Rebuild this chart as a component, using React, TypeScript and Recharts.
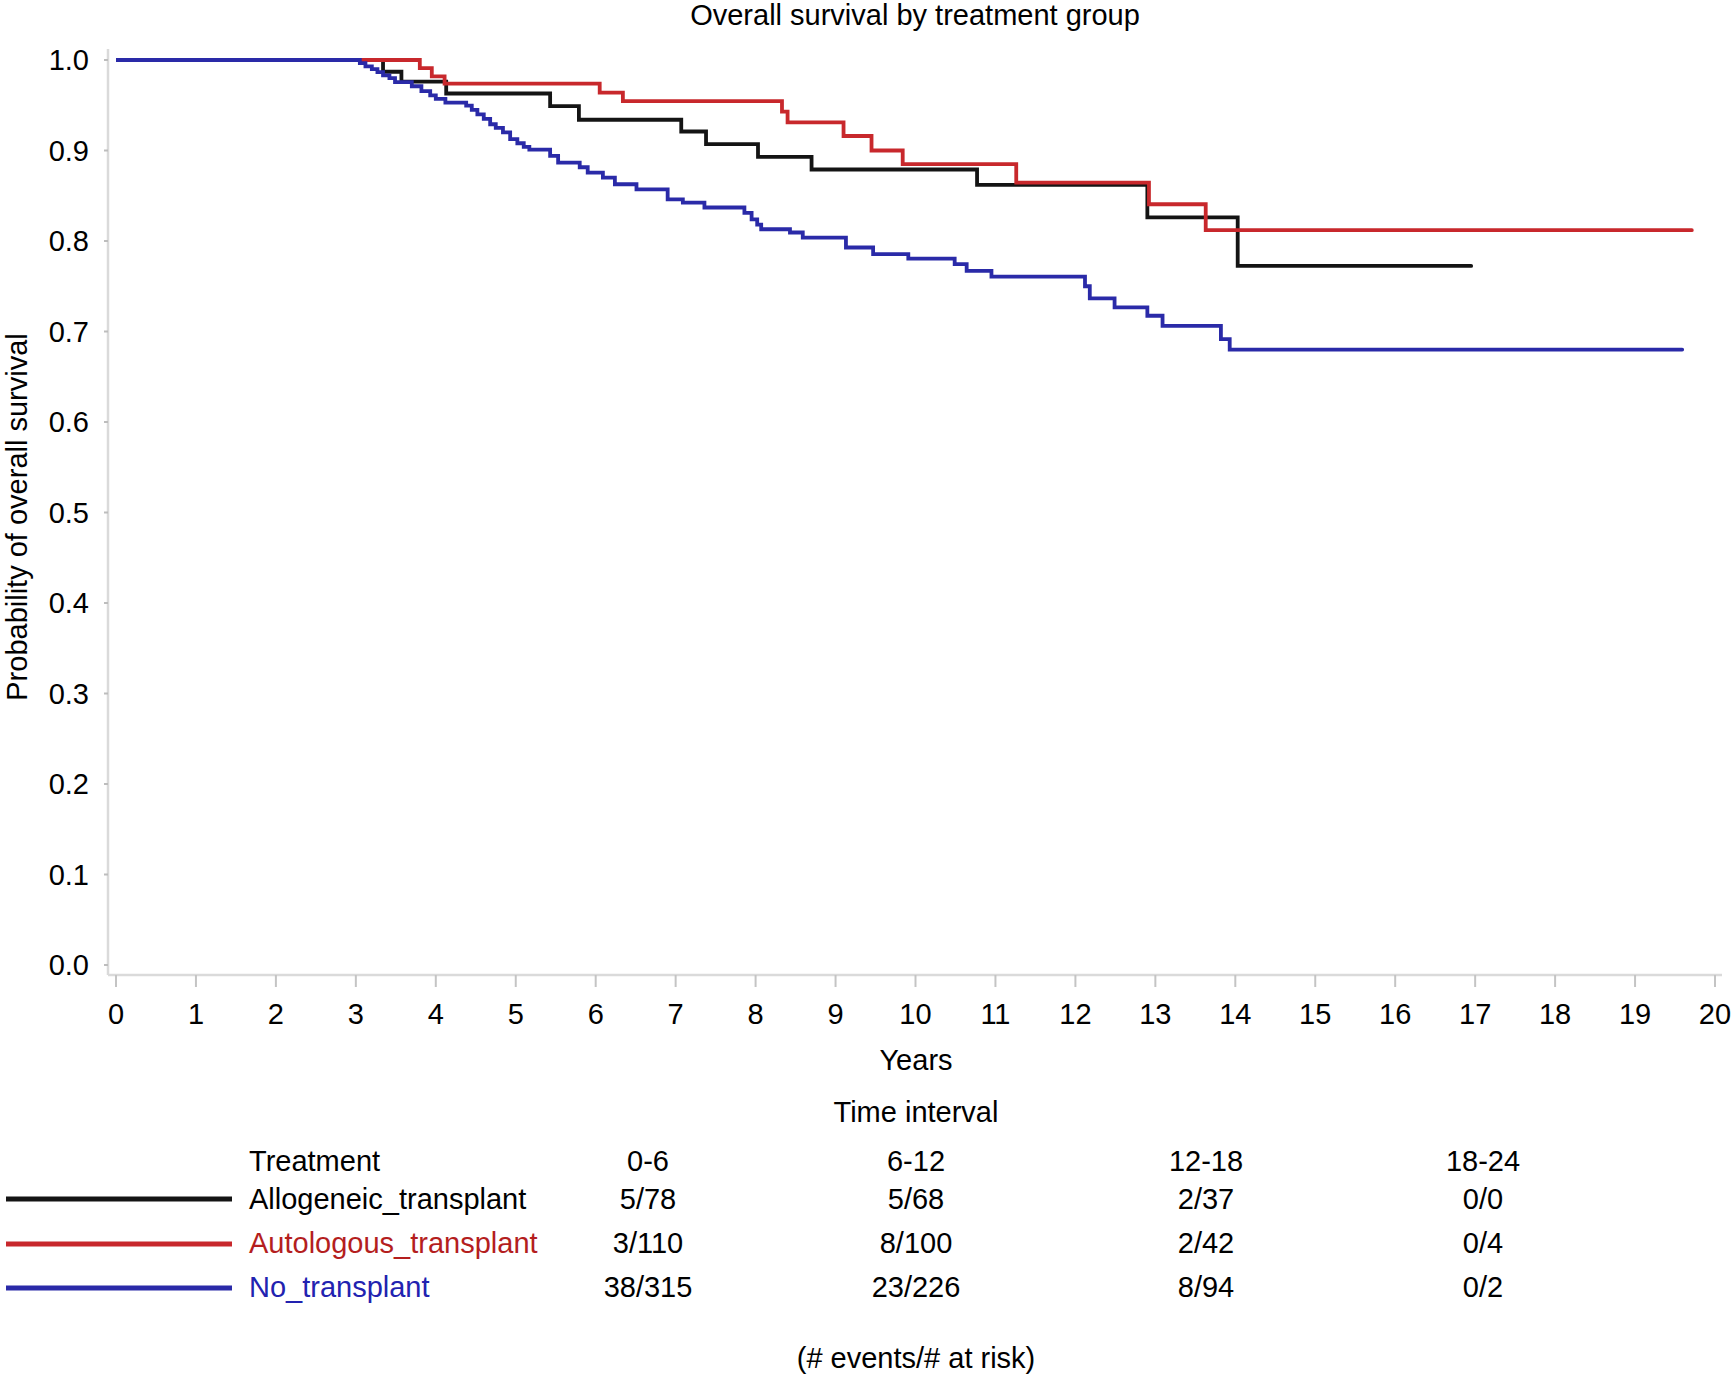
import React from 'react';
import { LineChart, Line, XAxis, YAxis } from 'recharts';

const FONT = '"Liberation Sans", Arial, Helvetica, sans-serif';
const FS = 29;

// axis ticks
const yearTicks = [0, 1, 2, 3, 4, 5, 6, 7, 8, 9, 10, 11, 12, 13, 14, 15, 16, 17, 18, 19, 20];
const survivalTicks = [0, 0.1, 0.2, 0.3, 0.4, 0.5, 0.6, 0.7, 0.8, 0.9, 1.0];

// Kaplan-Meier step points (time in years, survival probability)
const alloTimes = [0, 3.34, 3.57, 4.13, 5.43, 5.79, 7.07, 7.38, 8.03, 8.7, 10.77, 12.9, 14.03, 16.95];
const alloSurv = [1.0, 0.987, 0.976, 0.963, 0.949, 0.934, 0.921, 0.907, 0.893, 0.879, 0.862, 0.826, 0.7725, 0.7725];

const autoTimes = [0, 3.8, 3.95, 4.11, 6.05, 6.34, 8.33, 8.4, 9.1, 9.45, 9.84, 11.26, 12.92, 13.63, 19.71];
const autoSurv = [1.0, 0.991, 0.982, 0.974, 0.964, 0.9545, 0.943, 0.931, 0.916, 0.9, 0.885, 0.8645, 0.8406, 0.812, 0.812];

const noTxTimes = [
  0, 3.05, 3.12, 3.2, 3.27, 3.34, 3.42, 3.49, 3.7, 3.82, 3.93, 4.0, 4.12, 4.38, 4.45, 4.52, 4.6, 4.68,
  4.75, 4.84, 4.93, 5.02, 5.1, 5.17, 5.43, 5.53, 5.8, 5.9, 6.09, 6.24, 6.51, 6.9, 7.09, 7.36, 7.86,
  7.95, 8.02, 8.07, 8.43, 8.59, 9.13, 9.47, 9.91, 10.49, 10.64, 10.95, 12.12, 12.18, 12.49, 12.9,
  13.09, 13.82, 13.93, 19.59,
];
const noTxSurv = [
  1.0, 0.9965, 0.993, 0.99, 0.9865, 0.983, 0.98, 0.9755, 0.971, 0.9655, 0.961, 0.957, 0.953, 0.9495,
  0.945, 0.94, 0.935, 0.929, 0.925, 0.92, 0.9125, 0.908, 0.904, 0.901, 0.894, 0.8866, 0.8815, 0.8755,
  0.87, 0.8627, 0.857, 0.846, 0.8425, 0.837, 0.831, 0.824, 0.818, 0.813, 0.8094, 0.8038, 0.7928,
  0.7854, 0.7806, 0.7744, 0.767, 0.7607, 0.75, 0.7365, 0.7266, 0.7174, 0.7063, 0.6916, 0.68, 0.68,
];

// risk table
const intervals = ['0-6', '6-12', '12-18', '18-24'];
const treatments = ['Allogeneic_transplant', 'Autologous_transplant', 'No_transplant'];
const alloCounts = ['5/78', '5/68', '2/37', '0/0'];
const autoCounts = ['3/110', '8/100', '2/42', '0/4'];
const noTxCounts = ['38/315', '23/226', '8/94', '0/2'];

const lineColors = ['#141414', '#c8282c', '#2a2aa8'];
const textColors = ['#000000', '#b41e1e', '#2222b0'];

const zip = (ts: number[], ss: number[]) => ts.map((t, i) => ({ t, s: ss[i] }));
const seriesData = [zip(alloTimes, alloSurv), zip(autoTimes, autoSurv), zip(noTxTimes, noTxSurv)];
const countRows = [alloCounts, autoCounts, noTxCounts];

const W = 1733;
const H = 1382;
const FRAME = '#dadada';

const colX = [648, 916, 1206, 1483];
const rowY = [1209, 1253, 1297];
const legendLineY = [1199, 1244, 1288];

export default function App() {
  return (
    <div style={{ position: 'absolute', left: 0, top: 0, width: W, height: H, background: '#fff' }}>
      <LineChart
        width={W}
        height={H}
        margin={{ top: 49, right: 11, left: 8, bottom: 357 }}
        style={{ fontFamily: FONT }}
      >
        <XAxis
          dataKey="t"
          type="number"
          domain={[0, 20]}
          ticks={yearTicks}
          interval={0}
          allowDataOverflow
          padding={{ left: 8, right: 7 }}
          height={50}
          tickSize={12}
          tickMargin={16}
          axisLine={{ stroke: FRAME, strokeWidth: 2.5 }}
          tickLine={{ stroke: '#c4c4c4', strokeWidth: 2 }}
          tick={{ fill: '#000', fontSize: FS, fontFamily: FONT }}
        />
        <XAxis
          xAxisId="top"
          orientation="top"
          dataKey="t"
          type="number"
          domain={[0, 20]}
          height={0}
          tick={false}
          tickLine={false}
          axisLine={{ stroke: FRAME, strokeWidth: 2.5 }}
        />
        <YAxis
          type="number"
          domain={[0, 1]}
          ticks={survivalTicks}
          interval={0}
          padding={{ top: 11, bottom: 10 }}
          width={100}
          tickSize={4}
          tickMargin={15}
          tickFormatter={(v: number) => v.toFixed(1)}
          axisLine={{ stroke: FRAME, strokeWidth: 2.5 }}
          tickLine={{ stroke: '#bdbdbd', strokeWidth: 2 }}
          tick={{ fill: '#000', fontSize: FS, fontFamily: FONT }}
        />
        <YAxis
          yAxisId="right"
          orientation="right"
          type="number"
          domain={[0, 1]}
          width={0}
          tick={false}
          tickLine={false}
          axisLine={{ stroke: FRAME, strokeWidth: 2.5 }}
        />
        {seriesData.map((d, i) => (
          <Line
            key={treatments[i]}
            data={d}
            dataKey="s"
            name={treatments[i]}
            type="stepAfter"
            stroke={lineColors[i]}
            strokeWidth={3.8}
            strokeLinecap="round"
            dot={false}
            activeDot={false}
            isAnimationActive={false}
          />
        ))}
      </LineChart>
      <svg
        width={W}
        height={H}
        style={{ position: 'absolute', left: 0, top: 0, pointerEvents: 'none' }}
        fontFamily={FONT}
        fontSize={FS}
      >
        <text x={915} y={25} textAnchor="middle" fill="#000">
          Overall survival by treatment group
        </text>
        <text x={27} y={517} textAnchor="middle" fill="#000" transform="rotate(-90 27 517)">
          Probability of overall survival
        </text>
        <text x={916} y={1070} textAnchor="middle" fill="#000">
          Years
        </text>
        <text x={916} y={1122} textAnchor="middle" fill="#000">
          Time interval
        </text>
        <text x={249} y={1171} fill="#000">
          Treatment
        </text>
        {intervals.map((lab, j) => (
          <text key={lab} x={colX[j]} y={1171} textAnchor="middle" fill="#000">
            {lab}
          </text>
        ))}
        {treatments.map((name, i) => (
          <g key={name}>
            <line x1={6} x2={232} y1={legendLineY[i]} y2={legendLineY[i]} stroke={lineColors[i]} strokeWidth={5} />
            <text x={249} y={rowY[i]} fill={textColors[i]}>
              {name}
            </text>
            {countRows[i].map((c, j) => (
              <text key={j} x={colX[j]} y={rowY[i]} textAnchor="middle" fill="#000">
                {c}
              </text>
            ))}
          </g>
        ))}
        <text x={916} y={1368} textAnchor="middle" fill="#000">
          (# events/# at risk)
        </text>
      </svg>
    </div>
  );
}
